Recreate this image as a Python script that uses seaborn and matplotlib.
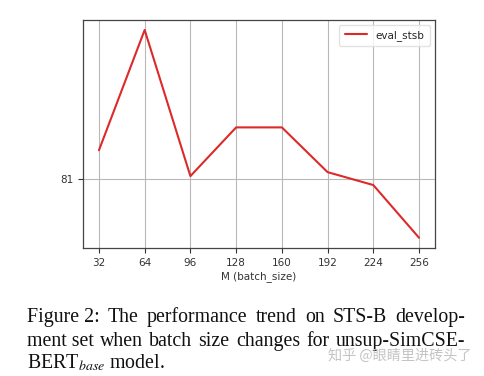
import matplotlib
matplotlib.use("Agg")
import matplotlib.pyplot as plt
import seaborn as sns
import pandas as pd

# values
batch_sizes = [32, 64, 96, 128, 160, 192, 224, 256]
eval_stsb = [81.29, 82.50, 81.03, 81.52, 81.52, 81.07, 80.94, 80.41]
y_ticks = [81]
x_label = "M (batch_size)"
series_name = "eval_stsb"

caption_lines = [
    "Figure 2:  The performance trend on STS-B develop-",
    "ment set when batch size changes for unsup-SimCSE-",
]
caption_last = r"BERT$_{base}$ model."
watermark = "知乎 @眼睛里进砖头了"

df = pd.DataFrame({"batch_size": batch_sizes, series_name: eval_stsb})

sns.set_style("white")
plt.rcParams["font.family"] = ["DejaVu Sans"]
plt.rcParams["mathtext.fontset"] = "stix"

fig = plt.figure(figsize=(4.85, 3.76), dpi=100)
ax = fig.add_axes([0.171, 0.340, 0.726, 0.608])

sns.lineplot(data=df, x="batch_size", y=series_name, color="#dc2a2a",
             linewidth=1.5, label=series_name, ax=ax)

ax.set_xticks(batch_sizes)
ax.set_yticks(y_ticks)
ax.tick_params(axis="both", labelsize=7.5, length=3.5, width=0.8,
               colors="#333333", direction="out", bottom=True, left=True)
ax.set_xlabel(x_label, fontsize=7.5, color="#333333", labelpad=2)
ax.set_ylabel("")
ax.grid(True, color="#b8b8b8", linewidth=0.8)
for s in ax.spines.values():
    s.set_color("#444444")
    s.set_linewidth(0.9)
leg = ax.legend(loc="upper right", fontsize=7.5, frameon=True,
                handlelength=2.2, borderpad=0.5)
leg.get_frame().set_edgecolor("#dddddd")

# caption, justified between two edges
left_px, right_px = 27, 465
W, H = 485, 376
fig.canvas.draw()
renderer = fig.canvas.get_renderer()
cap_font = dict(family="Liberation Serif", fontsize=14.3, color="#111111")
line_y = [322, 346]
for line, ypx in zip(caption_lines, line_y):
    words = line.split()
    # "Figure 2:" is kept as one chunk
    words = [words[0] + " " + words[1]] + words[2:]
    texts = []
    widths = []
    for w in words:
        t = fig.text(0, 0, w, **cap_font, va="baseline")
        widths.append(t.get_window_extent(renderer).width)
        texts.append(t)
    gap = (right_px - left_px - sum(widths)) / (len(words) - 1)
    x = left_px
    for t, wd in zip(texts, widths):
        t.set_position((x / W, 1 - ypx / H))
        x += wd + gap

fig.text(left_px / W, 1 - 368 / H, caption_last, va="baseline", **cap_font)
fig.text(328 / W, 1 - 356 / H, watermark, va="center", fontsize=10.2,
         color="#c4c4c4", family=["Noto Sans CJK SC", "DejaVu Sans"])

fig.savefig("out.png", dpi=100)
